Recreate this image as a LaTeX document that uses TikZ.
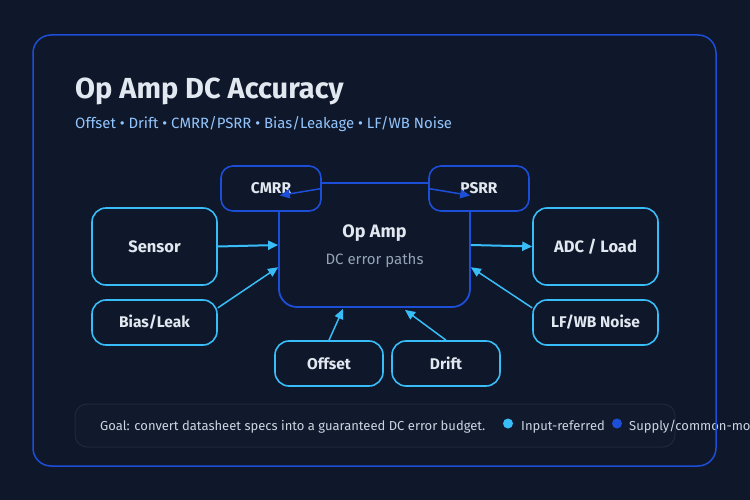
\documentclass[tikz,border=0pt]{standalone}
\usepackage{fontspec}
\setmainfont{Fira Sans}
\usetikzlibrary{arrows.meta,calc}
\definecolor{bg}{HTML}{0F172A}
\definecolor{frameblue}{HTML}{1D4ED8}
\definecolor{sky}{HTML}{38BDF8}
\definecolor{txt}{HTML}{E2E8F0}
\definecolor{subtxt}{HTML}{93C5FD}
\definecolor{graytxt}{HTML}{94A3B8}
\definecolor{legfill}{HTML}{111A2C}
\definecolor{legdraw}{HTML}{1E293B}
\definecolor{legtxt}{HTML}{CBD5E1}
\tikzset{
  skybox/.style={draw=sky, line width=1.6pt, fill=bg, rounded corners=14pt, inner sep=0pt, text=txt, font=\bfseries\fontsize{15.5}{18}\selectfont},
  bluebox/.style={draw=frameblue, line width=1.6pt, fill=bg, rounded corners=12pt, inner sep=0pt, text=txt, font=\bfseries\fontsize{15.5}{18}\selectfont},
  bigtext/.style={font=\bfseries\fontsize{16.5}{19}\selectfont},
  skyarrow/.style={draw=sky, line width=1.5pt, -{Triangle[length=10pt,width=9pt]}},
  bluearrow/.style={draw=frameblue, line width=1.5pt, -{Triangle[length=10pt,width=9pt]}},
  legtext/.style={anchor=base west, inner sep=0pt, text=legtxt, font=\fontsize{13}{15}\selectfont},
}
\begin{document}
\begin{tikzpicture}[x=1pt,y=-1pt]
\fill[bg] (0,0) rectangle (750,500);
\useasboundingbox (0,0) rectangle (750,500);
% title
\node[anchor=base west, inner sep=0pt, text=txt, font=\bfseries\fontsize{29}{33}\selectfont] (title) at (75,99) {Op Amp DC Accuracy};
\node[anchor=base west, inner sep=0pt, text=subtxt, font=\fontsize{14.9}{17}\selectfont] (subtitle) at (75,129) {Offset • Drift • CMRR/PSRR • Bias/Leakage • LF/WB Noise};
% op amp
\node[draw=frameblue, line width=1.8pt, fill=bg, rounded corners=18pt, minimum width=191pt, minimum height=124pt, inner sep=0pt] (opamp) at (374.5,245) {};
\node[text=txt, font=\bfseries\fontsize{18}{21}\selectfont, inner sep=0pt] (oplabel) at (374.5,233) {Op Amp};
\node[text=graytxt, font=\fontsize{15}{17}\selectfont, inner sep=0pt] (opsub) at (374.5,260) {DC error paths};
% CMRR / PSRR
\node[bluebox, minimum width=100pt, minimum height=45pt] (cmrr) at (271,188.5) {CMRR};
\node[bluebox, minimum width=100pt, minimum height=45pt] (psrr) at (479,188.5) {PSRR};
% side boxes
\node[skybox, bigtext, minimum width=125pt, minimum height=77pt] (sensor) at (154.5,246.5) {Sensor};
\node[skybox, minimum width=125pt, minimum height=45pt] (bias) at (154.5,322.5) {Bias/Leak};
\node[skybox, bigtext, minimum width=125pt, minimum height=77pt] (adc) at (595.5,246.5) {ADC / Load};
\node[skybox, minimum width=125pt, minimum height=45pt] (lfwb) at (595.5,322.5) {LF/WB Noise};
\node[skybox, minimum width=108pt, minimum height=45pt] (offset) at (329,363.5) {Offset};
\node[skybox, minimum width=108pt, minimum height=45pt] (drift) at (446,363.5) {Drift};
% arrows
\draw[bluearrow] (cmrr.east) -- ++(-42,7);
\draw[bluearrow] (psrr.west) -- ++(42,7);
\draw[skyarrow, line width=2pt] (sensor.east) -- (opamp.west);
\draw[skyarrow] (bias.13) -- (opamp.193.5);
\draw[skyarrow, line width=2pt] (opamp.east) -- (adc.west);
\draw[skyarrow] (lfwb.167) -- (opamp.-13.4);
\draw[skyarrow] (offset.north) -- ($(opamp.south)+(-31.5,1)$);
\draw[skyarrow] (drift.north) -- ($(opamp.south)+(30.5,2)$);
% legend
\node[draw=legdraw, line width=1pt, fill=legfill, rounded corners=12pt, minimum width=600pt, minimum height=43pt, inner sep=0pt] (legend) at (375,425.5) {};
\node[legtext] (goal) at (100,430) {Goal: convert datasheet specs into a guaranteed DC error budget.};
\fill[sky] (508,423.5) circle (5pt) coordinate (dotA);
\node[legtext] (inref) at (521,430) {Input-referred};
\fill[frameblue] (617,423.5) circle (5pt) coordinate (dotB);
\node[legtext] (supply) at (629,430) {Supply/common-mode};
% frame
\draw[frameblue, line width=1.5pt, rounded corners=18pt] (33,35) rectangle (716,466);
\end{tikzpicture}
\end{document}
